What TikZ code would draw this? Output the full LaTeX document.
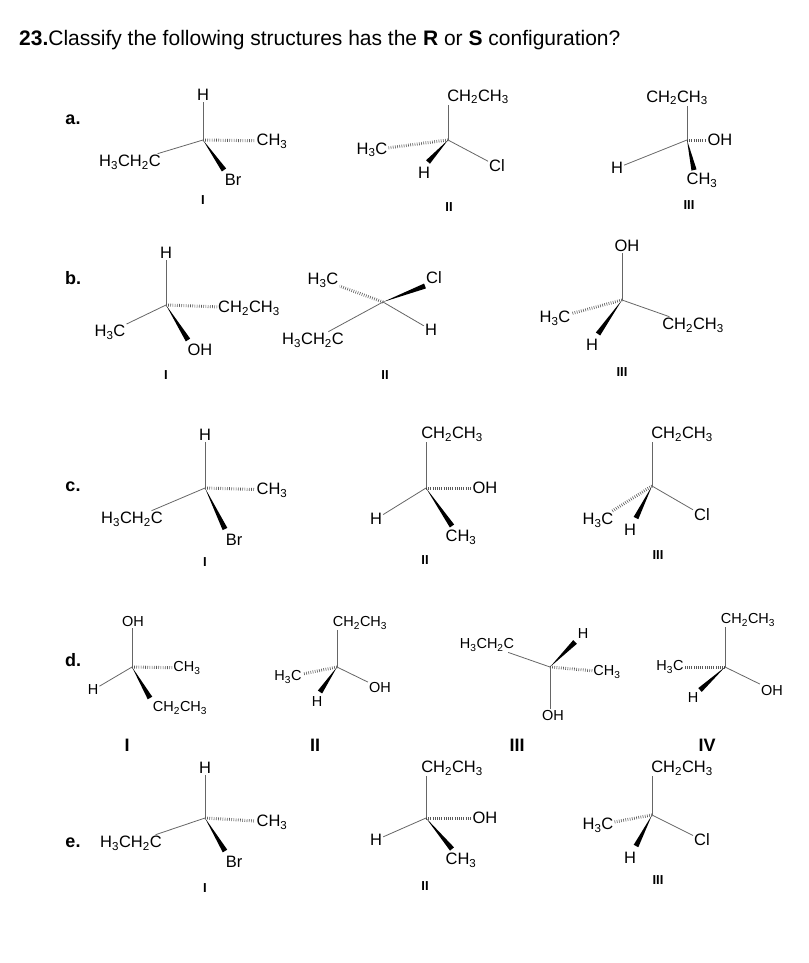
\documentclass[tikz,border=0pt]{standalone}
\usepackage{fontspec}
\setmainfont{Liberation Sans}
\usetikzlibrary{calc}
\tikzset{
  lab/.style={inner sep=1pt,font=\fontsize{16.5}{17}\selectfont},
  labd/.style={inner sep=1pt,font=\fontsize{14.5}{15}\selectfont},
  bond/.style={line width=0.8pt,gray!80!black},
  hash/.style={line width=3pt,dash pattern=on 0.6pt off 1.6pt,gray!70!black},
  roman/.style={font=\bfseries\fontsize{13}{14}\selectfont},
  romanbig/.style={font=\bfseries\fontsize{18}{19}\selectfont},
  rowlab/.style={font=\bfseries\fontsize{18}{19}\selectfont}
}
\newcommand\wdg[2]{\fill (#1) -- ($(#2)!2.6pt!90:(#1)$) -- ($(#2)!2.6pt!-90:(#1)$) -- cycle;}
\newcommand\chsub[1]{\textsubscript{#1}}
\begin{document}
\begin{tikzpicture}[x=1pt,y=-1pt]
\useasboundingbox (0,0) rectangle (808,963);
\node[anchor=west,inner sep=0,font=\fontsize{21}{22}\selectfont] (title) at (19,40) {\textbf{23.}Classify the following structures has the \textbf{R} or \textbf{S} configuration?};
\node[rowlab] (ra) at (73,120) {a.};
\node[rowlab] (rb) at (73,278) {b.};
\node[rowlab] (rc) at (73,487) {c.};
\node[rowlab] (rd) at (73,660) {d.};
\node[rowlab] (re) at (73,843) {e.};
% ---------- a ----------
\coordinate (a1) at (203,140);
\node[lab] (a1h) at (203,95) {H};
\node[lab] (a1m) at (272,141) {CH\chsub3};
\node[lab] (a1e) at (130,162) {H\chsub3CH\chsub2C};
\node[lab] (a1b) at (233,180) {Br};
\node[roman] (a1r) at (203,200) {I};
\draw[bond] (a1) -- (a1h); \draw[bond] (a1) -- (a1e); \draw[hash] (a1) -- (a1m);
\wdg{a1}{224,170}
\coordinate (a2) at (448,140);
\node[lab] (a2t) at (478,97) {CH\chsub2CH\chsub3};
\node[lab] (a2m) at (372,150) {H\chsub3C};
\node[lab] (a2c) at (497,166) {Cl};
\node[lab] (a2h) at (424,173) {H};
\node[roman] (a2r) at (449,207) {II};
\draw[bond] (a2) -- (a2 |- a2t.south); \draw[hash] (a2) -- (a2m); \draw[bond] (a2) -- (a2c);
\wdg{a2}{428,162}
\coordinate (a3) at (687,140);
\node[lab] (a3t) at (677,98) {CH\chsub2CH\chsub3};
\node[lab] (a3o) at (720,140) {OH};
\node[lab] (a3h) at (617,168) {H};
\node[lab] (a3m) at (702,180) {CH\chsub3};
\node[roman] (a3r) at (689,205) {III};
\draw[bond] (a3) -- (a3 |- a3t.south); \draw[hash] (a3) -- (a3o); \draw[bond] (a3) -- (a3h);
\wdg{a3}{694,170}
% ---------- b ----------
\coordinate (b1) at (166,305);
\node[lab] (b1h) at (166,253) {H};
\node[lab] (b1e) at (249,308) {CH\chsub2CH\chsub3};
\node[lab] (b1m) at (110,332) {H\chsub3C};
\node[lab] (b1o) at (200,350) {OH};
\node[roman] (b1r) at (166,375) {I};
\draw[bond] (b1) -- (b1h); \draw[hash] (b1) -- (b1e); \draw[bond] (b1) -- (b1m);
\wdg{b1}{188,340}
\coordinate (b2) at (383,302);
\node[lab] (b2m) at (323,280) {H\chsub3C};
\node[lab] (b2e) at (313,340) {H\chsub3CH\chsub2C};
\node[lab] (b2c) at (434,278) {Cl};
\node[lab] (b2h) at (431,330) {H};
\node[roman] (b2r) at (385,375) {II};
\draw[hash] (b2) -- (b2m); \draw[bond] (b2) -- (b2e); \draw[bond] (b2) -- (b2h);
\wdg{b2}{425,286}
\coordinate (b3) at (622,300);
\node[lab] (b3o) at (627,246) {OH};
\node[lab] (b3m) at (555,318) {H\chsub3C};
\node[lab] (b3e) at (693,325) {CH\chsub2CH\chsub3};
\node[lab] (b3h) at (592,345) {H};
\node[roman] (b3r) at (622,372) {III};
\draw[bond] (b3) -- (b3 |- b3o.south); \draw[hash] (b3) -- (b3m); \draw[bond] (b3) -- (b3e);
\wdg{b3}{598,334}
% ---------- c ----------
\coordinate (c1) at (205,488);
\node[lab] (c1h) at (205,435) {H};
\node[lab] (c1m) at (272,490) {CH\chsub3};
\node[lab] (c1e) at (132,519) {H\chsub3CH\chsub2C};
\node[lab] (c1b) at (234,540) {Br};
\node[roman] (c1r) at (205,562) {I};
\draw[bond] (c1) -- (c1h); \draw[hash] (c1) -- (c1m); \draw[bond] (c1) -- (c1e);
\wdg{c1}{225,529}
\coordinate (c2) at (426,488);
\node[lab] (c2t) at (452,434) {CH\chsub2CH\chsub3};
\node[lab] (c2o) at (485,488) {OH};
\node[lab] (c2h) at (376,519) {H};
\node[lab] (c2m) at (461,537) {CH\chsub3};
\node[roman] (c2r) at (425,560) {II};
\draw[bond] (c2) -- (c2 |- c2t.south); \draw[hash] (c2) -- (c2o); \draw[bond] (c2) -- (c2h);
\wdg{c2}{452,526}
\coordinate (c3) at (652,486);
\node[lab] (c3t) at (682,434) {CH\chsub2CH\chsub3};
\node[lab] (c3m) at (598,520) {H\chsub3C};
\node[lab] (c3c) at (702,515) {Cl};
\node[lab] (c3h) at (630,530) {H};
\node[roman] (c3r) at (658,555) {III};
\draw[bond] (c3) -- (c3 |- c3t.south); \draw[hash] (c3) -- (c3m); \draw[bond] (c3) -- (c3c);
\wdg{c3}{636,518}
% ---------- d ----------
\coordinate (d1) at (132,667);
\node[labd] (d1o) at (133,622) {OH};
\node[labd] (d1m) at (187,668) {CH\chsub3};
\node[labd] (d1h) at (93,690) {H};
\node[labd] (d1e) at (180,708) {CH\chsub2CH\chsub3};
\node[romanbig] (d1r) at (127,745) {I};
\draw[bond] (d1) -- (d1 |- d1o.south); \draw[hash] (d1) -- (d1m); \draw[bond] (d1) -- (d1h);
\wdg{d1}{150,698}
\coordinate (d2) at (337,667);
\node[labd] (d2t) at (360,623) {CH\chsub2CH\chsub3};
\node[labd] (d2m) at (288,677) {H\chsub3C};
\node[labd] (d2o) at (380,688) {OH};
\node[labd] (d2h) at (317,702) {H};
\node[romanbig] (d2r) at (315,745) {II};
\draw[bond] (d2) -- (d2 |- d2t.south); \draw[hash] (d2) -- (d2m); \draw[bond] (d2) -- (d2o);
\wdg{d2}{320,692}
\coordinate (d3) at (550,667);
\node[labd] (d3e) at (487,645) {H\chsub3CH\chsub2C};
\node[labd] (d3h) at (583,634) {H};
\node[labd] (d3m) at (607,672) {CH\chsub3};
\node[labd] (d3o) at (553,715) {OH};
\node[romanbig] (d3r) at (517,745) {III};
\draw[bond] (d3) -- (d3e); \draw[hash] (d3) -- (d3m); \draw[bond] (d3) -- (d3 |- d3o.north);
\wdg{d3}{575,642}
\coordinate (d4) at (725,667);
\node[labd] (d4t) at (748,620) {CH\chsub2CH\chsub3};
\node[labd] (d4m) at (670,667) {H\chsub3C};
\node[labd] (d4o) at (772,690) {OH};
\node[labd] (d4h) at (693,698) {H};
\node[romanbig] (d4r) at (707,745) {IV};
\draw[bond] (d4) -- (d4 |- d4t.south); \draw[hash] (d4) -- (d4m); \draw[bond] (d4) -- (d4o);
\wdg{d4}{700,690}
% ---------- e ----------
\coordinate (e1) at (205,818);
\node[lab] (e1h) at (205,768) {H};
\node[lab] (e1m) at (272,822) {CH\chsub3};
\node[lab] (e1e) at (131,843) {H\chsub3CH\chsub2C};
\node[lab] (e1b) at (234,862) {Br};
\node[roman] (e1r) at (205,888) {I};
\draw[bond] (e1) -- (e1h); \draw[hash] (e1) -- (e1m); \draw[bond] (e1) -- (e1e);
\wdg{e1}{225,851}
\coordinate (e2) at (426,818);
\node[lab] (e2t) at (452,768) {CH\chsub2CH\chsub3};
\node[lab] (e2o) at (485,818) {OH};
\node[lab] (e2h) at (376,840) {H};
\node[lab] (e2m) at (461,860) {CH\chsub3};
\node[roman] (e2r) at (425,886) {II};
\draw[bond] (e2) -- (e2 |- e2t.south); \draw[hash] (e2) -- (e2o); \draw[bond] (e2) -- (e2h);
\wdg{e2}{452,849}
\coordinate (e3) at (652,815);
\node[lab] (e3t) at (682,768) {CH\chsub2CH\chsub3};
\node[lab] (e3m) at (598,825) {H\chsub3C};
\node[lab] (e3c) at (702,840) {Cl};
\node[lab] (e3h) at (630,858) {H};
\node[roman] (e3r) at (658,880) {III};
\draw[bond] (e3) -- (e3 |- e3t.south); \draw[hash] (e3) -- (e3m); \draw[bond] (e3) -- (e3c);
\wdg{e3}{636,846}
\end{tikzpicture}
\end{document}
